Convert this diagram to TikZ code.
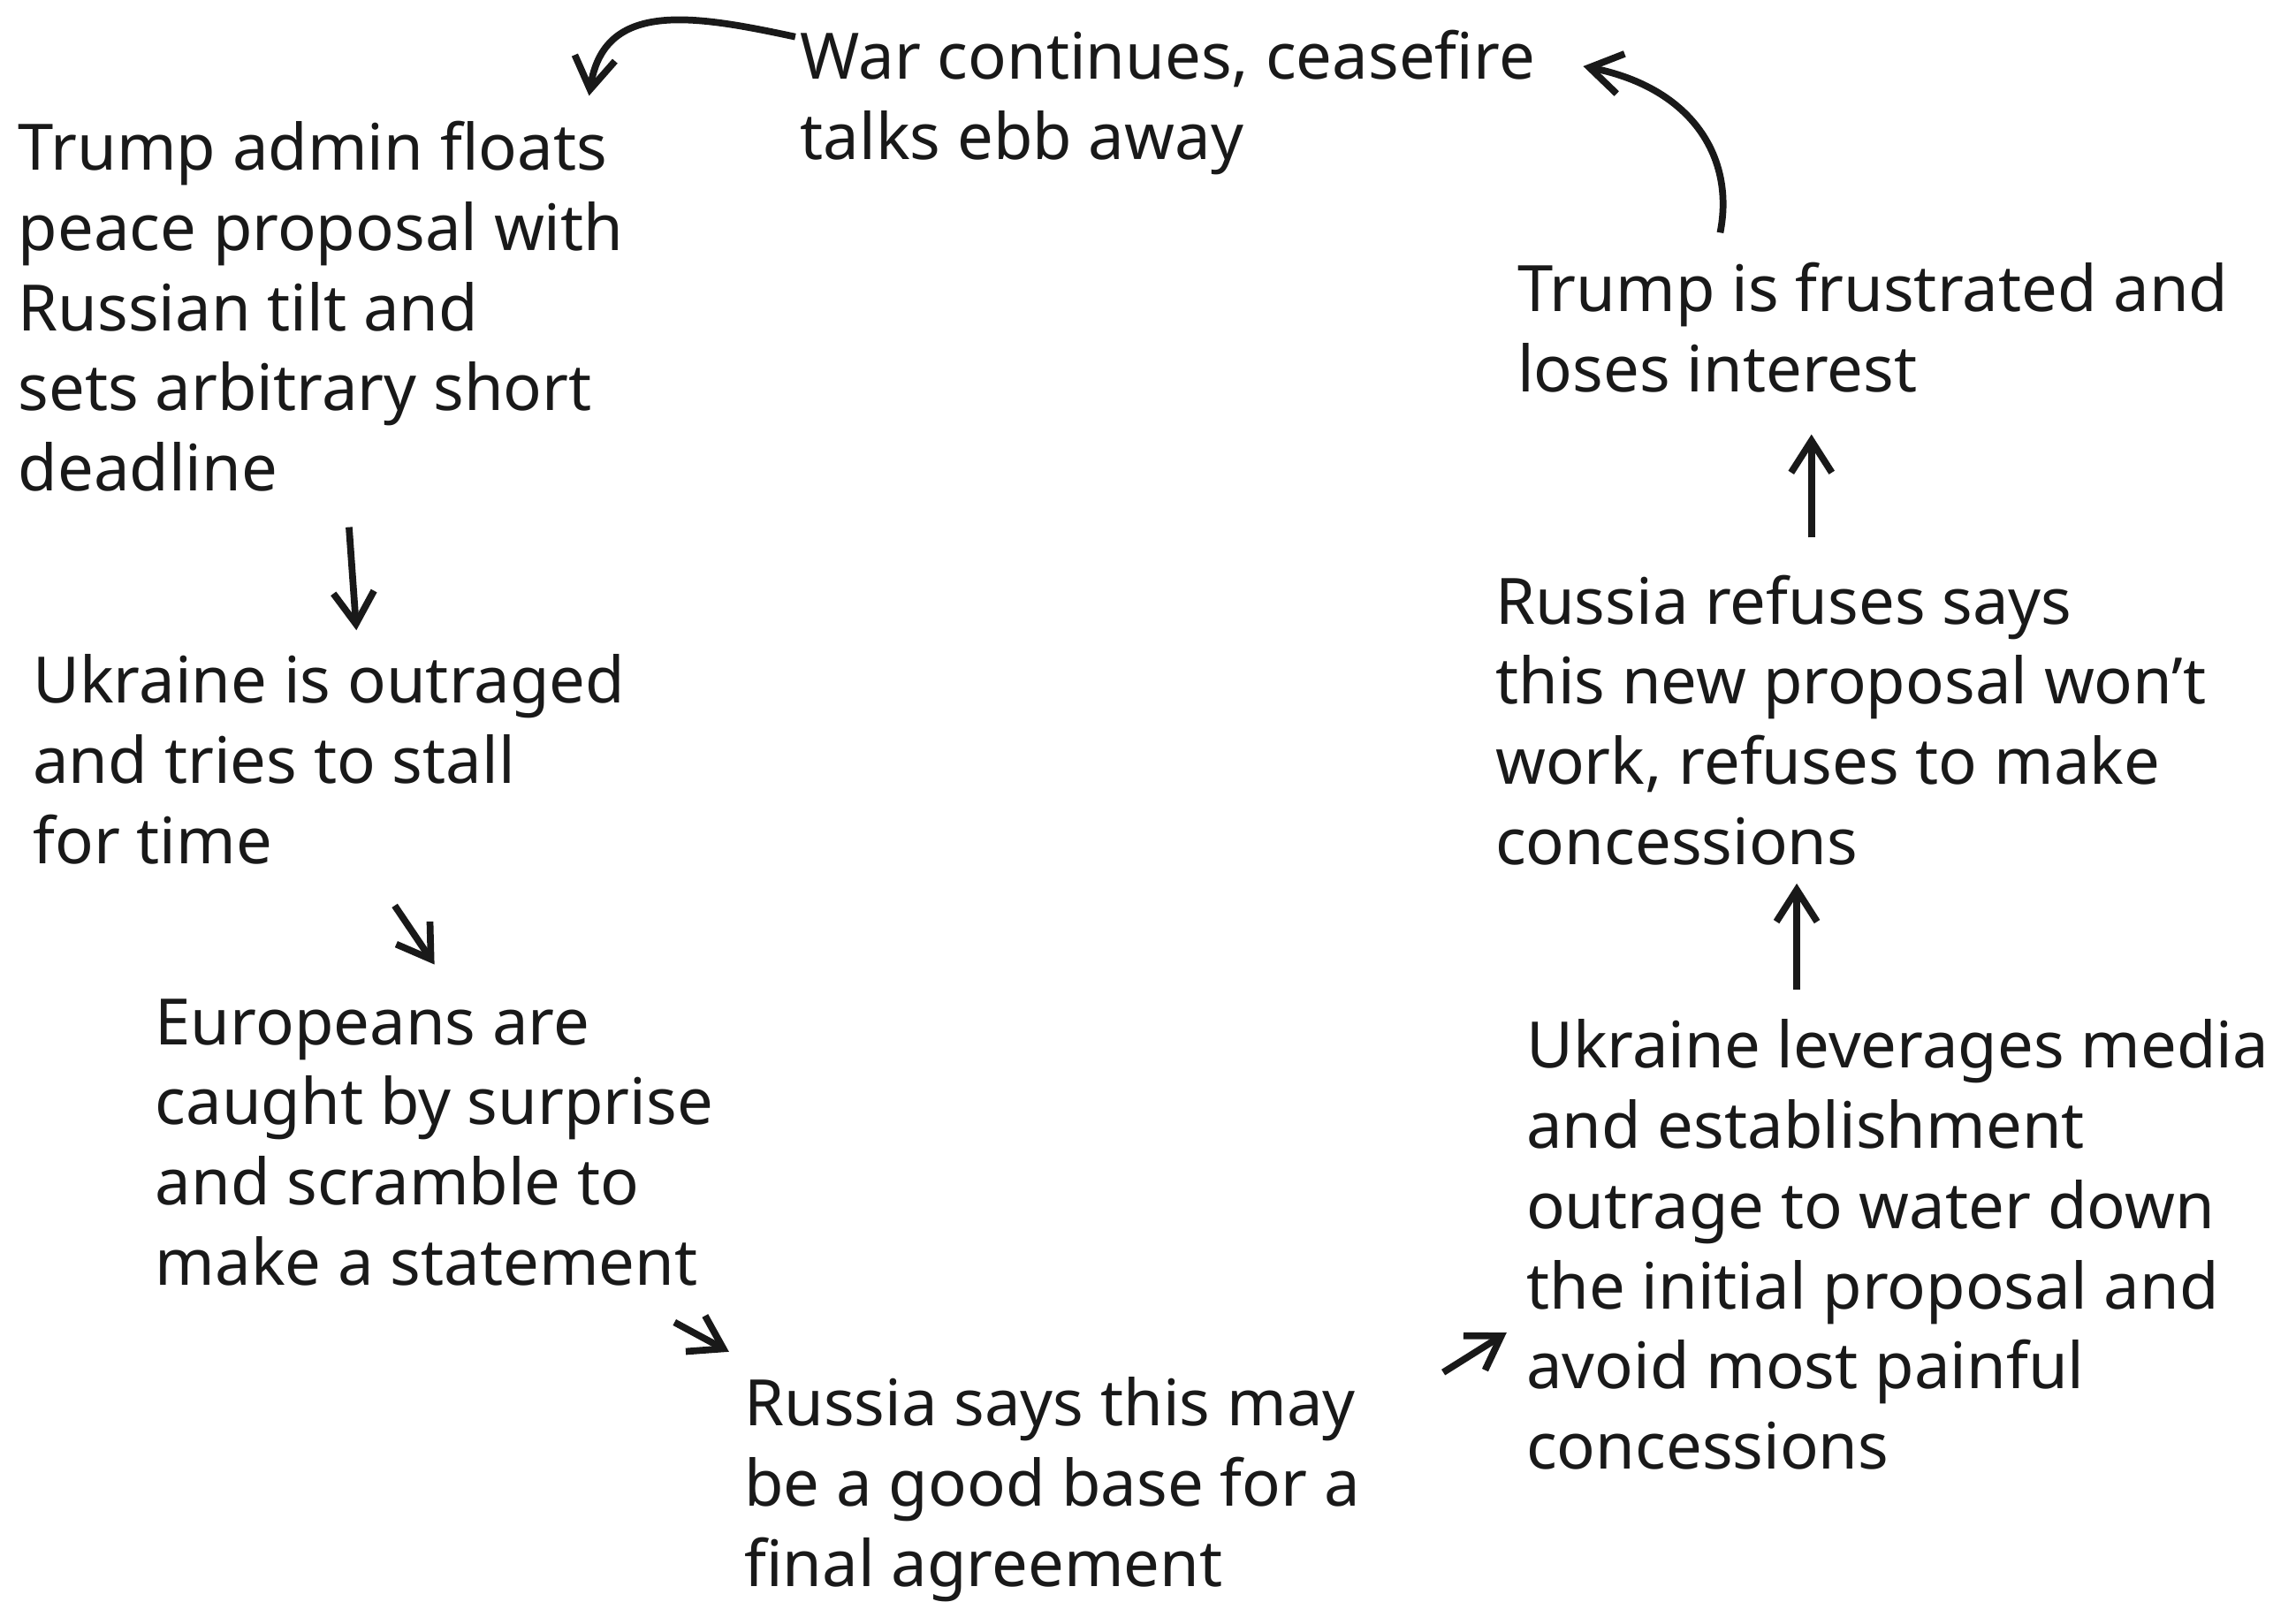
\documentclass[tikz,border=0pt]{standalone}
\usepackage{fontspec}
\setmainfont{Noto Sans}
\usetikzlibrary{arrows.meta}
\tikzset{
  phase/.style={anchor=north west,inner sep=0pt,align=left,
    font=\fontsize{20.6}{25.8}\selectfont,text=black!90},
  arr/.style={-{Straight Barb[length=3.6mm,width=4.6mm,line width=2.2pt]},line width=2.2pt,black!90}
}
\begin{document}
\begin{tikzpicture}[x=0.01667cm,y=-0.01667cm]
\useasboundingbox (0,0) rectangle (1559,1098);

\node[phase] (float) at (12,82) {Trump admin floats\\peace proposal with\\Russian tilt and\\sets arbitrary short\\deadline};
\node[phase] (outrage) at (22,444) {Ukraine is outraged\\and tries to stall\\for time};
\node[phase] (europe) at (105,678) {Europeans are\\caught by surprise\\and scramble to\\make a statement};
\node[phase] (base) at (505,935) {Russia says this may\\be a good base for a\\final agreement};
\node[phase] (leverage) at (1036,692) {Ukraine leverages media\\and establishment\\outrage to water down\\the initial proposal and\\avoid most painful\\concessions};
\node[phase] (refuse) at (1015,390) {Russia refuses says\\this new proposal won't\\work, refuses to make\\concessions};
\node[phase] (lose) at (1030,178) {Trump is frustrated and\\loses interest};
\node[phase] (ebb) at (543,20) {War continues, ceasefire\\talks ebb away};

% steps round the cycle
\draw[arr] (float.north west) ++(225,276) -- ++(5,70);
\draw[arr] (outrage.north west) ++(246,171) -- ++(27,40);
\draw[arr] (europe.north west) ++(353,220) -- ++(37,20);
\draw[arr] (base.north west) ++(475,-3) -- ++(43,-27);
\draw[arr] (leverage.north west) ++(184,-20) -- ++(0,-72);
\draw[arr] (refuse.north west) ++(215,-25) -- ++(0,-70);
\draw[arr] (lose.north west) ++(138,-20) .. controls ++(10,-50) and (1150,60) .. (1075,45);
\draw[arr] (ebb.north west) ++(-3,5) .. controls (470,10) and (410,0) .. (400,65);
\end{tikzpicture}
\end{document}
